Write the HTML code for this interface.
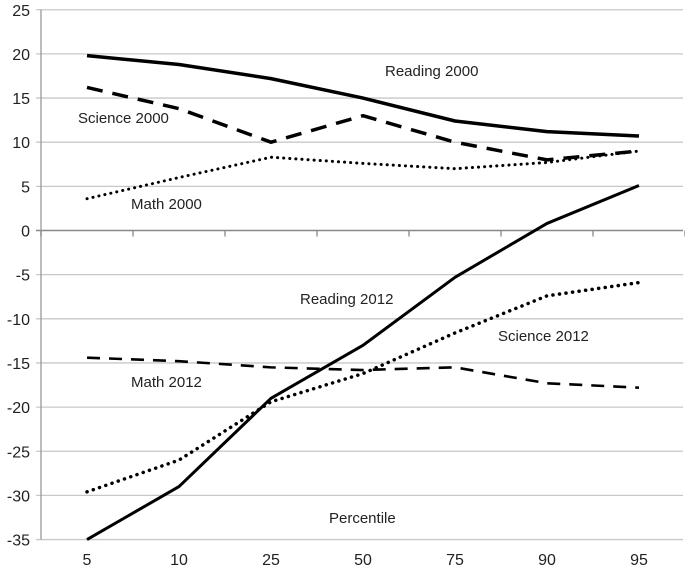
<!DOCTYPE html>
<html><head><meta charset="utf-8"><style>
body{margin:0;background:#fff}
svg text{font-family:"Liberation Sans",sans-serif;fill:#222}
</style></head><body>
<svg width="685" height="573">
<g id="grid"></g><g id="series"></g><g id="labels"></g>
</svg>
<script>
const categories=["5","10","25","50","75","90","95"];
const yTicks=[25,20,15,10,5,0,-5,-10,-15,-20,-25,-30,-35];
const reading2000=[19.8,18.8,17.2,15,12.4,11.2,10.7];
const science2000=[16.2,13.8,10,13,10,8,9];
const math2000=[3.6,6,8.3,7.6,7,7.7,9];
const reading2012=[-35,-29,-19,-13,-5.3,0.8,5.1];
const science2012=[-29.6,-26,-19.4,-16.2,-11.6,-7.4,-5.9];
const math2012=[-14.4,-14.8,-15.5,-15.8,-15.5,-17.3,-17.8];
const NS='http://www.w3.org/2000/svg';
const L=41,R=683,band=92;
const x=i=>L+band*(i+0.5);
const y=v=>230.5-v*8.83;
function mk(t,a,p){const e=document.createElementNS(NS,t);for(const k in a)e.setAttribute(k,a[k]);p.appendChild(e);return e;}
const grid=document.getElementById('grid'),ser=document.getElementById('series'),lab=document.getElementById('labels');
yTicks.forEach(v=>{
 const g=mk('line',{x1:L-5,x2:R,y1:y(v),y2:y(v),stroke:v===0?'#888':'#c8c8c8','stroke-width':v===0?1.5:1.3},grid);
 
 
 const t=mk('text',{x:30,y:y(v)+6,'text-anchor':'end','font-size':16},lab);
 t.textContent=v;
 
 
});
const ax=mk('line',{x1:L,x2:L,y1:y(25),y2:y(-35),stroke:'#999','stroke-width':1.3},grid);


for(let k=0;k<=7;k++){
 const tk=mk('line',{x1:L+band*k,x2:L+band*k,y1:y(0),y2:y(0)+6,stroke:'#888','stroke-width':1.3},grid);
 
 
}
categories.forEach((c,i)=>{
 const t=mk('text',{x:x(i),y:565,'text-anchor':'middle','font-size':16},lab);
 t.textContent=c;
 
 
});
const series=[
 [reading2000,'reading-2000-line','',3.5,'butt'],
 [science2000,'science-2000-line','16 10',3.5,'butt'],
 [math2000,'math-2000-line','0.1 6',3,'round'],
 [reading2012,'reading-2012-line','',3,'butt'],
 [science2012,'science-2012-line','0.1 6.5',3.5,'round'],
 [math2012,'math-2012-line','13 9',2.6,'butt']
];
series.forEach(([d,n,dash,w,cap])=>{
 const p=mk('polyline',{points:d.map((v,i)=>x(i)+','+y(v)).join(' '),fill:'none',stroke:'#000','stroke-width':w,'stroke-dasharray':dash,'stroke-linecap':cap,'stroke-linejoin':'round'},ser);
 
 
});
const anns=[['Reading 2000',385,76],['Science 2000',78,123],['Math 2000',131,209],['Reading 2012',300,304],['Science 2012',498,341],['Math 2012',131,387],['Percentile',329,523]];
anns.forEach(([s,ax,ay])=>{
 const t=mk('text',{x:ax,y:ay,'font-size':15},lab);
 t.textContent=s;
 
 
});
</script>
</body></html>
